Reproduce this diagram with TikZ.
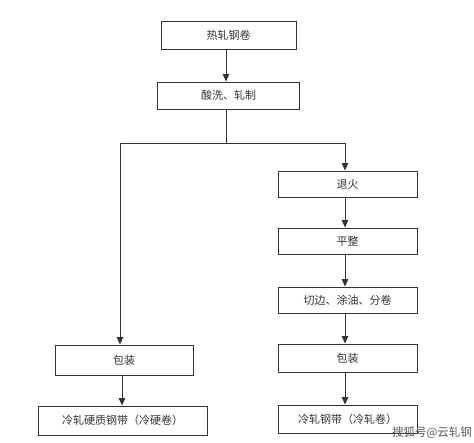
\documentclass[tikz,border=0pt]{standalone}
\usepackage{fontspec}
\newfontfamily\cjk{Noto Sans CJK SC}
\usetikzlibrary{arrows.meta}
\definecolor{ink}{HTML}{333333}
\tikzset{
  stepbox/.style={draw=ink, line width=0.9pt, rectangle, inner sep=0pt,
    font=\cjk\fontsize{11}{13}\selectfont, text=ink},
  arr/.style={draw=ink, line width=0.9pt, -{Triangle[width=6.5pt,length=7.5pt]}},
  ln/.style={draw=ink, line width=0.9pt}
}
\begin{document}
\begin{tikzpicture}[x=1pt,y=-1pt]
\useasboundingbox (0,0) rectangle (474,443);
\fill[white] (0,0) rectangle (474,443);
% top
\node[stepbox, minimum width=135pt, minimum height=28pt] (b1) at (228.5,35) {热轧钢卷};
\node[stepbox, minimum width=142pt, minimum height=27pt] (b2) at (228.5,95.5) {酸洗、轧制};
% right column
\node[stepbox, minimum width=139pt, minimum height=26pt] (r1) at (347.5,184) {退火};
\node[stepbox, minimum width=139pt, minimum height=26pt] (r2) at (347.5,241) {平整};
\node[stepbox, minimum width=139pt, minimum height=26pt] (r3) at (347.5,300) {切边、涂油、分卷};
\node[stepbox, minimum width=139pt, minimum height=28pt] (r4) at (347.5,358) {包装};
\node[stepbox, minimum width=139pt, minimum height=28pt] (r5) at (347.5,419) {冷轧钢带（冷轧卷）};
% left column
\node[stepbox, minimum width=138pt, minimum height=30pt] (l1) at (124,360) {包装};
\node[stepbox, minimum width=169pt, minimum height=29pt] (l2) at (122.5,420.5) {冷轧硬质钢带（冷硬卷）};
% junctions
\coordinate (jl) at (120,143);
\coordinate (jr) at (345,143);
\coordinate (jm) at (226,143);
\coordinate (xl) at (122,0);
% connectors
\draw[arr] (b1.south -| jm) -- (b2.north -| jm);
\draw[ln] (b2.south -| jm) -- (jm);
\draw[ln] (jl) -- (jr);
\draw[arr] (jr) -- (r1.north -| jr);
\draw[arr] (jl) -- (l1.north -| jl);
\draw[arr] (r1.south -| jr) -- (r2.north -| jr);
\draw[arr] (r2.south -| jr) -- (r3.north -| jr);
\draw[arr] (r3.south -| jr) -- (r4.north -| jr);
\draw[arr] (r4.south -| jr) -- (r5.north -| jr);
\draw[arr] (l1.south -| xl) -- (l2.north -| xl);
% watermark
\node[font=\cjk\fontsize{11.5}{13}\selectfont, text=black!65, inner sep=0pt] (wm) at (432,433) {搜狐号@云轧钢};
\end{tikzpicture}
\end{document}
